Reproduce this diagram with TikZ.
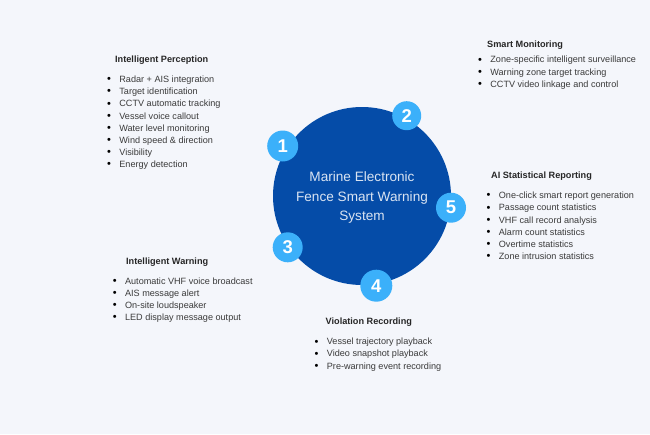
\documentclass[tikz,border=0pt]{standalone}
\usepackage{fontspec}
\setmainfont{Liberation Sans}
\definecolor{bgc}{HTML}{F4F6FB}
\definecolor{corec}{HTML}{054CA8}
\definecolor{badgec}{HTML}{3BB0FA}
\definecolor{txtc}{HTML}{3A3A3A}
\newcommand{\blt}{\makebox[12.2pt][l]{\raisebox{-0.2pt}{\fontsize{11}{11}\selectfont\textcolor{black}{\textbullet}}}}
\tikzset{
  core/.style={circle,fill=corec,minimum size=178pt,inner sep=0pt},
  badge/.style={circle,fill=badgec,text=white,inner sep=0pt,font=\fontsize{18.5}{19}\selectfont\bfseries},
  heading/.style={anchor=west,inner sep=0pt,text=black!85,font=\fontsize{9.15}{10}\selectfont\bfseries},
  items/.style={anchor=north west,inner sep=0pt,align=left,text=txtc,font=\fontsize{9.1}{12.15}\selectfont},
}
\begin{document}
\begin{tikzpicture}[x=1pt,y=-1pt]
\useasboundingbox (0,0) rectangle (650,434);
\fill[bgc] (0,0) rectangle (650,434);
\node[core] (c) at (362,196) {};
\node[align=center,text=white!85!corec,inner sep=0pt,font=\fontsize{13.6}{19.4}\selectfont] (t) at (362,197.5) {Marine Electronic\\Fence Smart Warning\\System};
\node[badge,minimum size=31pt] (b1) at (282.7,146) {1};
\node[badge,minimum size=29pt] (b2) at (406.7,115.7) {2};
\node[badge,minimum size=30pt] (b3) at (287.7,247.3) {3};
\node[badge,minimum size=32pt] (b4) at (376.3,285.7) {4};
\node[badge,minimum size=30pt] (b5) at (451,207.7) {5};

\node[heading] (h1) at (115,60) {Intelligent Perception};
\node[items] (l1) at (107,75.8) {\blt Radar + AIS integration\\\blt Target identification\\\blt CCTV automatic tracking\\\blt Vessel voice callout\\\blt Water level monitoring\\\blt Wind speed \& direction\\\blt Visibility\\\blt Energy detection};

\node[heading] (h2) at (487,44.7) {Smart Monitoring};
\node[items] (l2) at (478,56.2) {\blt Zone-specific intelligent surveillance\\\blt Warning zone target tracking\\\blt CCTV video linkage and control};

\node[heading] (h3) at (126,261.7) {Intelligent Warning};
\node[items] (l3) at (112.7,277.5) {\blt Automatic VHF voice broadcast\\\blt AIS message alert\\\blt On-site loudspeaker\\\blt LED display message output};

\node[heading] (h4) at (325.5,321.7) {Violation Recording};
\node[items] (l4) at (314.5,338) {\blt Vessel trajectory playback\\\blt Video snapshot playback\\\blt Pre-warning event recording};

\node[heading] (h5) at (491,175.7) {AI Statistical Reporting};
\node[items] (l5) at (486.5,192) {\blt One-click smart report generation\\\blt Passage count statistics\\\blt VHF call record analysis\\\blt Alarm count statistics\\\blt Overtime statistics\\\blt Zone intrusion statistics};
\end{tikzpicture}
\end{document}
